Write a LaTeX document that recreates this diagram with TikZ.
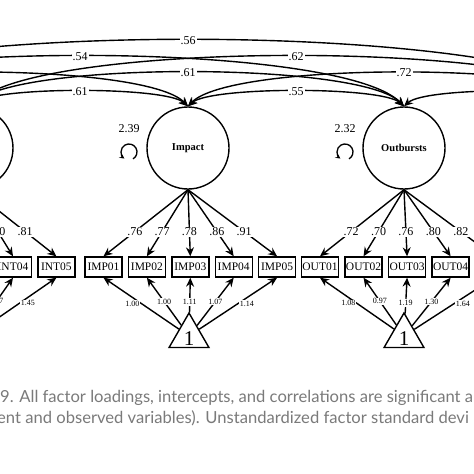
\documentclass[tikz,border=0pt]{standalone}
\usepackage{fontspec}
\setmainfont{Liberation Serif}
\newfontfamily\capfont{Lato}
\usepackage{tikz}
\usetikzlibrary{arrows.meta,positioning,calc,shapes.geometric}
\definecolor{capgray}{RGB}{122,122,122}

\begin{document}
\begin{tikzpicture}[x=1pt, y=1pt,
  latent/.style={draw, circle, line width=1.4pt, minimum size=82pt, inner sep=0pt,
                 font=\fontsize{10.5}{12}\selectfont\bfseries},
  item/.style={draw, line width=1.4pt, minimum width=37pt, minimum height=20pt, inner sep=1pt,
               font=\fontsize{11.5}{12}\selectfont},
  icpt/.style={draw, regular polygon, regular polygon sides=3, line width=1.4pt,
               minimum size=46pt, inner sep=0pt},
  one/.style={font=\fontsize{21}{21}\selectfont, inner sep=0pt},
  arr/.style={-{Stealth[length=9pt,width=8pt,inset=3pt]}, line width=1.4pt},
  cov/.style={{Stealth[length=9pt,width=8pt,inset=3pt]}-{Stealth[length=9pt,width=8pt,inset=3pt]}, line width=1.4pt},
  var/.style={-{Stealth[length=5pt,width=5pt,inset=2pt]}, line width=1.3pt},
  est/.style={fill=white, inner sep=1pt, font=\fontsize{12}{12}\selectfont},
  icp/.style={fill=white, inner sep=1pt, font=\fontsize{8}{8}\selectfont},
  caption/.style={anchor=base west, inner sep=0pt, text=capgray, font=\capfont\fontsize{16.6}{16.6}\selectfont}]

  \clip (0,0) rectangle (474,-474);
  \fill[white] (0,0) rectangle (474,-474);

  % latent factors
  \node[latent] (int) at (-28,-148) {};
  \node[latent] (imp) at (188,-148) {Impact};
  \node[latent] (out) at (404,-148) {Outbursts};
  \coordinate (f1) at (-244,-107);
  \coordinate (f5) at (620,-107);

  % observed variables
  \node[item] (int04) at (13,-267) {INT04};
  \node[item, right=5pt of int04] (int05) {INT05};
  \node[item] (imp01) at (103.5,-267) {IMP01};
  \node[item, right=5pt of imp01] (imp02) {IMP02};
  \node[item, right=5pt of imp02] (imp03) {IMP03};
  \node[item, right=5pt of imp03] (imp04) {IMP04};
  \node[item, right=5pt of imp04] (imp05) {IMP05};
  \node[item] (out01) at (320,-267) {OUT01};
  \node[item, right=5pt of out01] (out02) {OUT02};
  \node[item, right=5pt of out02] (out03) {OUT03};
  \node[item, right=5pt of out03] (out04) {OUT04};
  \node[item, right=5pt of out04] (out05) {OUT05};

  % intercept triangles
  \node[icpt] (tint) at (-28,-336) {};
  \node[icpt] (timp) at (189,-336) {};
  \node[icpt] (tout) at (404,-336) {};
  \node[one] (oneimp) at ([yshift=-3pt]timp.center) {1};
  \node[one] (oneout) at ([yshift=-3pt]tout.center) {1};

  % loadings
  \draw[arr] (int.south) -- node[est, pos=.63] {.80} (int04.north);
  \draw[arr] (int.south) -- node[est, pos=.63] {.81} (int05.north);
  \draw[arr] (imp.south) -- node[est, pos=.63] {.76} (imp01.north);
  \draw[arr] (imp.south) -- node[est, pos=.63] {.77} (imp02.north);
  \draw[arr] (imp.south) -- node[est, pos=.63] {.78} (imp03.north);
  \draw[arr] (imp.south) -- node[est, pos=.63] {.86} (imp04.north);
  \draw[arr] (imp.south) -- node[est, pos=.63] {.91} (imp05.north);
  \draw[arr] (out.south) -- node[est, pos=.63] {.72} (out01.north);
  \draw[arr] (out.south) -- node[est, pos=.63] {.70} (out02.north);
  \draw[arr] (out.south) -- node[est, pos=.63] {.76} (out03.north);
  \draw[arr] (out.south) -- node[est, pos=.63] {.80} (out04.north);
  \draw[arr] (out.south) -- node[est, pos=.63] {.82} (out05.north);

  % intercepts
  \draw[arr] (tint) -- node[icp, pos=.5] {1.17} (int04.south);
  \draw[arr] (tint) -- node[icp, pos=.5, anchor=west] {1.45} (int05.south);
  \draw[arr] (timp) -- node[icp, pos=.5, anchor=east] {1.00} (imp01.south);
  \draw[arr] (timp) -- node[icp, pos=.5] {1.00} (imp02.south);
  \draw[arr] (timp) -- node[icp, pos=.3] {1.11} (imp03.south);
  \draw[arr] (timp) -- node[icp, pos=.5] {1.07} (imp04.south);
  \draw[arr] (timp) -- node[icp, pos=.5, anchor=west] {1.14} (imp05.south);
  \draw[arr] (tout) -- node[icp, pos=.5, anchor=east] {1.08} (out01.south);
  \draw[arr] (tout) -- node[icp, pos=.5] {0.97} (out02.south);
  \draw[arr] (tout) -- node[icp, pos=.3] {1.19} (out03.south);
  \draw[arr] (tout) -- node[icp, pos=.5] {1.30} (out04.south);
  \draw[arr] (tout) -- node[icp, pos=.5, anchor=west] {1.64} (out05.south);

  % correlations
  \draw[cov] (f1) .. controls +(86,89) and +(-86,89) .. (f5) node[est, pos=.5] {.56};
  \draw[cov] (f1) .. controls +(65,67) and +(-65,67) .. (out.north) node[est, pos=.5] {.54};
  \draw[cov] (int.north) .. controls +(65,67) and +(-65,67) .. (f5) node[est, pos=.5] {.62};
  \draw[cov] (f1) .. controls +(43,45) and +(-43,45) .. (imp.north);
  \draw[cov] (int.north) .. controls +(43,45) and +(-43,45) .. (out.north) node[est, pos=.5] {.61};
  \draw[cov] (imp.north) .. controls +(43,45) and +(-43,45) .. (f5) node[est, pos=.5] {.72};
  \draw[cov] (int.north) .. controls +(22,20) and +(-22,20) .. (imp.north) node[est, pos=.5] {.61};
  \draw[cov] (imp.north) .. controls +(22,20) and +(-22,20) .. (out.north) node[est, pos=.5] {.55};
  \draw[cov] (out.north) .. controls +(22,20) and +(-22,20) .. (f5);

  % variances
  \coordinate (vimp) at ($(imp.center)+(-59,-4)$);
  \coordinate (vout) at ($(out.center)+(-59,-4)$);
  \draw[var] ([shift={(-60:8)}]vimp) arc[start angle=-60, end angle=235, radius=8];
  \draw[var] ([shift={(-60:8)}]vout) arc[start angle=-60, end angle=235, radius=8];
  \node[est, above=18pt of vimp] (simp) {2.39};
  \node[est, above=18pt of vout] (sout) {2.32};

  % caption
  \node[caption] (cap1) at (0,-402) {9. All factor loadings, intercepts, and correlations are significant a};
  \node[caption] (cap2) at (-3,-423) {ent and observed variables). Unstandardized factor standard devi};
\end{tikzpicture}
\end{document}
